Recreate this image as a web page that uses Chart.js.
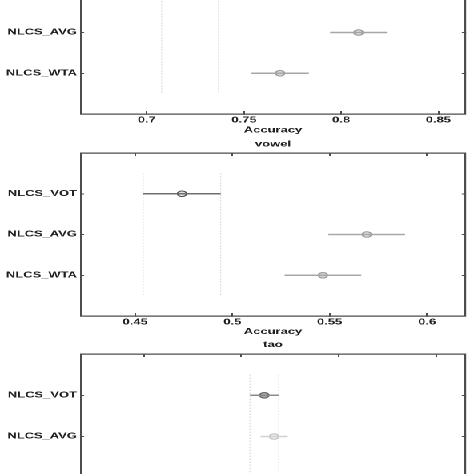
<!DOCTYPE html>
<html><head><meta charset="utf-8">
<script src="https://cdn.jsdelivr.net/npm/chart.js@4.4.0/dist/chart.umd.min.js"></script>
<style>
html,body{margin:0;padding:0;background:#fff;}
#outer{position:relative;width:474px;height:474px;overflow:hidden;background:#fff;}
#inner{position:absolute;left:0;top:0;width:296px;height:474px;transform:scaleX(1.6014);transform-origin:0 0;}
.panel{position:absolute;left:0;width:296px;}
</style></head><body>
<div id="outer"><div id="inner">
<div class="panel" style="top:-60px;height:198px"><canvas id="c1"></canvas></div>
<div class="panel" style="top:138px;height:200px"><canvas id="c2"></canvas></div>
<div class="panel" style="top:338px;height:210px"><canvas id="c3"></canvas></div>
</div></div>
<script>
// ---- data ----
const categories = ['NLCS_VOT', 'NLCS_AVG', 'NLCS_WTA'];

// top panel (title cut off)
const topMeans = [0.7223, 0.8089, 0.7686];
const topHalfWidths = [0.0146, 0.0146, 0.0148];
const topTicks = [0.7, 0.75, 0.8, 0.85];
const topTickLabels = ['0.7', '0.75', '0.8', '0.85'];
const topRange = [0.6662, 0.8637];

// vowel panel
const vowelMeans = [0.4741, 0.5690, 0.5465];
const vowelHalfWidths = [0.0199, 0.0197, 0.0197];
const vowelTicks = [0.45, 0.5, 0.55, 0.6];
const vowelTickLabels = ['0.45', '0.5', '0.55', '0.6'];
const vowelRange = [0.4222, 0.6195];

// tao panel (bottom cut off)
const taoMeans = [0.7618, 0.7668, null];
const taoHalfWidths = [0.0074, 0.0070, null];
const taoTicks = [0.7, 0.75, 0.8, 0.85];
const taoTickLabels = ['0.7', '0.75', '0.8', '0.85'];
const taoRange = [0.6676, 0.8649];

// ---- styling ----
const FONT = {family: "'Liberation Sans', Arial, Helvetica, sans-serif", size: 8.1, weight: 'bold', lineHeight: 1.2};
const AXIS = '#4d4d4d';
const TXT = '#1e1e1e';

function makePanel(id, cfg) {
  const {means, half, ticks, tickLabels, range, title, lineCols, ptBorders, ptFills,
         padTop, titlePad, xAxisH, xTitlePad} = cfg;
  const ds = [];
  const lo = means[0] - half[0], hi = means[0] + half[0];
  [lo, hi].forEach(v => ds.push({
    data: [{x: v, y: 0.5}, {x: v, y: 3.5}], showLine: true,
    borderColor: '#cfcfcf', borderWidth: 0.6, borderDash: [1.2, 1.8], pointRadius: 0
  }));
  means.forEach((m, i) => {
    if (m == null) return;
    ds.push({data: [{x: m - half[i], y: i + 1}, {x: m + half[i], y: i + 1}], showLine: true,
      borderColor: lineCols[i], borderWidth: 1.5, pointRadius: 0});
  });
  means.forEach((m, i) => {
    if (m == null) return;
    ds.push({data: [{x: m, y: i + 1}], showLine: false, pointRadius: 2.8, pointBorderWidth: 1,
      pointBorderColor: ptBorders[i], pointBackgroundColor: ptFills[i]});
  });
  const xTicksFn = ax => { ax.ticks = ticks.map(v => ({value: v})); };
  const yTicksFn = ax => { ax.ticks = [1, 2, 3].map(v => ({value: v})); };
  const grid = (len) => ({display: true, drawOnChartArea: false, drawTicks: true, tickLength: len, tickColor: AXIS, tickWidth: 1});
  new Chart(document.getElementById(id), {
    type: 'scatter',
    data: {datasets: ds},
    options: {
      responsive: true, maintainAspectRatio: false, animation: false, devicePixelRatio: 2,
      layout: {padding: {top: padTop, left: 0, right: 0, bottom: 0}},
      plugins: {
        legend: {display: false}, tooltip: {enabled: false},
        title: title ? {display: true, text: title, fullSize: false, color: TXT, font: FONT, padding: titlePad} : {display: false}
      },
      scales: {
        x: {type: 'linear', position: 'bottom', min: range[0], max: range[1],
          afterBuildTicks: xTicksFn, afterFit: ax => { ax.height = xAxisH; },
          grid: grid(-3), border: {display: true, color: AXIS, width: 1.3},
          ticks: {padding: 4.6, color: TXT, font: FONT, maxRotation: 0, autoSkip: false,
            callback: (v, i) => tickLabels[i]},
          title: {display: true, text: 'Accuracy', color: TXT, font: FONT, padding: {top: 0, bottom: xTitlePad}}},
        x2: {type: 'linear', position: 'top', min: range[0], max: range[1],
          afterBuildTicks: xTicksFn, afterFit: ax => { ax.height = 0; },
          grid: grid(-3), border: {display: true, color: AXIS, width: 1.3},
          ticks: {display: false}},
        y: {type: 'linear', position: 'left', min: 0, max: 4, reverse: true,
          afterBuildTicks: yTicksFn, afterFit: ax => { ax.width = 50.58; },
          grid: grid(-2), border: {display: true, color: AXIS, width: 1.1},
          ticks: {padding: 4.5, color: TXT, font: FONT, autoSkip: false,
            callback: v => categories[Math.round(v) - 1]}},
        y2: {type: 'linear', position: 'right', min: 0, max: 4, reverse: true,
          afterBuildTicks: yTicksFn, afterFit: ax => { ax.width = 5.6; },
          grid: grid(-2), border: {display: true, color: AXIS, width: 1.1},
          ticks: {display: false}}
      }
    }
  });
}

makePanel('c1', {means: topMeans, half: topHalfWidths, ticks: topTicks, tickLabels: topTickLabels,
  range: topRange, title: null,
  lineCols: ['#707070', '#a6a6a6', '#a6a6a6'], ptBorders: ['#555', '#969696', '#969696'],
  ptFills: ['#e0e0e0', '#d9d9d9', '#d9d9d9'],
  padTop: 11, titlePad: null, xAxisH: 24, xTitlePad: 3.1});

makePanel('c2', {means: vowelMeans, half: vowelHalfWidths, ticks: vowelTicks, tickLabels: vowelTickLabels,
  range: vowelRange, title: 'vowel',
  lineCols: ['#6e6e6e', '#a8a8a8', '#a8a8a8'], ptBorders: ['#505050', '#999', '#999'],
  ptFills: ['#e2e2e2', '#dcdcdc', '#d4d4d4'],
  padTop: 0, titlePad: {top: 1.6, bottom: 3.7}, xAxisH: 22, xTitlePad: 1.4});

makePanel('c3', {means: taoMeans, half: taoHalfWidths, ticks: taoTicks, tickLabels: taoTickLabels,
  range: taoRange, title: 'tao',
  lineCols: ['#8a8a8a', '#d2d2d2', '#d2d2d2'], ptBorders: ['#606060', '#c0c0c0', '#c0c0c0'],
  ptFills: ['#a8a8a8', '#ececec', '#ececec'],
  padTop: 0, titlePad: {top: 2.1, bottom: 4.2}, xAxisH: 29, xTitlePad: 2});
</script>
</body></html>
